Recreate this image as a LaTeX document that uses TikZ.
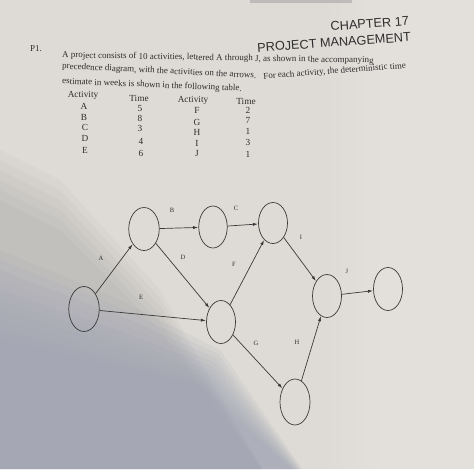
\documentclass[tikz,border=0pt]{standalone}
\usepackage{fontspec}
\setmainfont{Liberation Serif}
\newfontfamily\headfont{Liberation Sans}
\usetikzlibrary{shapes.geometric,arrows.meta}
\definecolor{paper}{HTML}{DEDBD6}
\definecolor{shadowc}{HTML}{9EA3B4}
\definecolor{ink}{HTML}{3A3A3A}
\definecolor{txt}{HTML}{2E2E2E}
\tikzset{
  evnode/.style={draw=ink, line width=0.7pt, ellipse, minimum width=29pt, minimum height=43pt, inner sep=0pt},
  act/.style={draw=ink, line width=0.7pt, -{Latex[length=5pt,width=3.2pt]}, shorten >=0.3pt},
  lbl/.style={text=txt, font=\fontsize{6.5}{7}\selectfont, inner sep=0pt},
  body/.style={text=txt, font=\fontsize{9}{10}\selectfont, inner sep=0pt, anchor=west},
  cell/.style={text=txt, font=\fontsize{9.3}{10}\selectfont, inner sep=0pt},
  head/.style={text=txt, font=\headfont\fontsize{12.7}{14}\selectfont, inner sep=0pt, rotate=4}
}
\begin{document}
\begin{tikzpicture}[x=1pt,y=-1pt]
\useasboundingbox (0,0) rectangle (474,469);
% paper and soft shadow
\fill[paper] (0,0) rectangle (474,469);
\foreach \i in {0,...,5} {
  \fill[gray, opacity=0.05] (0,150+10*\i) -- (60,180+10*\i) -- (160,290+8*\i) -- (262,469) -- (0,469) -- cycle;
}
\foreach \i in {0,...,9} {
  \fill[shadowc, opacity=0.12] (0,250+10*\i) -- (120-2*\i,300+7*\i) -- (220-2*\i,350+4*\i) -- (302-1.2*\i,469) -- (0,469) -- cycle;
}
\foreach \i in {0,...,4} {
  \fill[white, opacity=0.05] (330+12*\i,0) -- (474,0) -- (474,469) -- (330+12*\i,469) -- cycle;
}
\fill[gray!70, opacity=0.6] (250,0) rectangle (352,3);

% heading
\node[head, anchor=east] (ch) at (409,21) {CHAPTER 17};
\node[head, anchor=east] (pm) at (411,37) {PROJECT MANAGEMENT};

% problem text
\node[text=txt, font=\fontsize{9}{10}\selectfont, inner sep=0pt] (p1) at (36,49) {P1.};
\node[body, rotate=-1] (l1) at (62,55.5) {A project consists of 10 activities, lettered A through J, as shown in the accompanying};
\node[body, rotate=-2.8] (l2a) at (62,66.5) {precedence diagram, with the activities on the arrows.};
\node[body, rotate=4.4, anchor=east] (l2b) at (406,66) {For each activity, the deterministic time};
\node[body, rotate=-2.4] (l3) at (62,81.5) {estimate in weeks is shown in the following table.};

% table
\node[cell] (h1) at (83,95.5) {Activity};
\node[cell] (h2) at (139,98) {Time};
\node[cell] (h3) at (193,100) {Activity};
\node[cell] (h4) at (246,101) {Time};
\node[cell] (ra) at (84,106.5) {A};
\node[cell] (rb) at (84,117) {B};
\node[cell] (rc) at (85,127) {C};
\node[cell] (rd) at (85,138) {D};
\node[cell] (re) at (85,150) {E};
\node[cell] (ta) at (140,108) {5};
\node[cell] (tb) at (140,118) {8};
\node[cell] (tc) at (140,128) {3};
\node[cell] (td) at (141,141) {4};
\node[cell] (te) at (141,153) {6};
\node[cell] (rf) at (197,110.5) {F};
\node[cell] (rg) at (197,122) {G};
\node[cell] (rh) at (197,132) {H};
\node[cell] (ri) at (197,143) {I};
\node[cell] (rj) at (197,153) {J};
\node[cell] (tf) at (248,110.5) {2};
\node[cell] (tg) at (248,120) {7};
\node[cell] (th) at (248,131) {1};
\node[cell] (ti) at (248,142) {3};
\node[cell] (tj) at (248,154) {1};

% network
\node[evnode, minimum width=30.5pt, minimum height=45pt] (n1) at (84,309) {};
\node[evnode, minimum width=30.5pt] (n2) at (144,229) {};
\node[evnode, minimum width=28.5pt, minimum height=42pt] (n3) at (213,227) {};
\node[evnode, minimum height=41pt] (n4) at (273,223) {};
\node[evnode] (n5) at (221,322) {};
\node[evnode] (n6) at (327,296) {};
\node[evnode] (n7) at (388,289) {};
\node[evnode, minimum width=30pt, minimum height=46pt] (n8) at (295,402) {};

\draw[act] (n1) -- (n2);
\draw[act] (n2) -- (n3);
\draw[act] (n3) -- (n4);
\draw[act] (n2) -- (n5);
\draw[act] (n1) -- (n5);
\draw[act] (n5) -- (n4);
\draw[act] (n5) -- (n8);
\draw[act] (n8) -- (n6);
\draw[act] (n4) -- (n6);
\draw[act] (n6) -- (n7);

\node[lbl] (la) at (101,258) {A};
\node[lbl] (lb) at (172,210) {B};
\node[lbl] (lc) at (236,208) {C};
\node[lbl] (ld) at (183,257) {D};
\node[lbl] (le) at (141,297) {E};
\node[lbl] (lf) at (234,264) {F};
\node[lbl] (lg) at (256,343) {G};
\node[lbl] (lh) at (297,342) {H};
\node[lbl] (li) at (301,237) {I};
\node[lbl] (lj) at (347,271) {J};
\end{tikzpicture}
\end{document}
